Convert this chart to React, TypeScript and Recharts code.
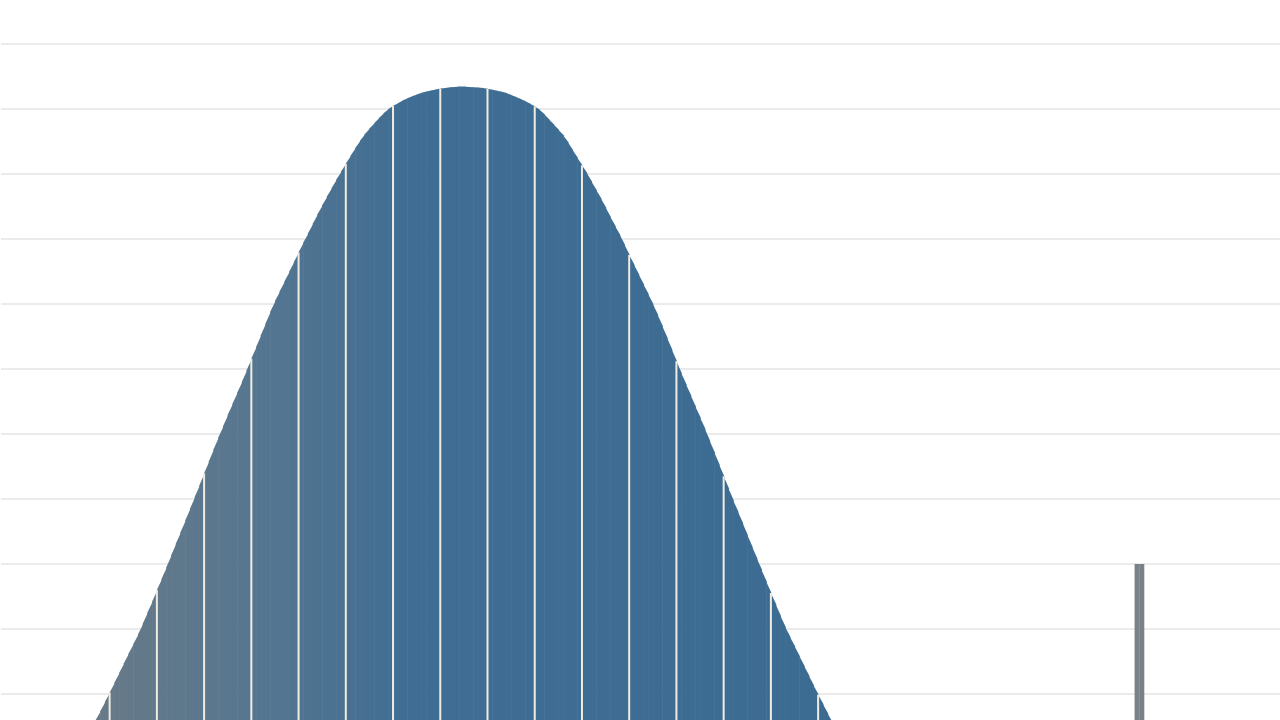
import React from 'react';
import { BarChart, Bar, XAxis, YAxis, CartesianGrid } from 'recharts';

// narrow bins across the full width; the bell occupies bins 8..187
const binCount = 271;
const bellStart = 8;
const bellValues = [
  0.00, 0.01, 0.01, 0.02, 0.04, 0.06, 0.09, 0.14, 0.20, 0.27,
  0.40, 0.53, 0.66, 0.81, 0.95, 1.10, 1.25, 1.40, 1.55, 1.70,
  1.84, 1.99, 2.17, 2.34, 2.51, 2.69, 2.86, 3.04, 3.22, 3.40,
  3.58, 3.76, 3.94, 4.12, 4.30, 4.49, 4.67, 4.86, 5.03, 5.21,
  5.38, 5.55, 5.72, 5.89, 6.07, 6.25, 6.43, 6.61, 6.79, 6.97,
  7.12, 7.27, 7.42, 7.57, 7.72, 7.87, 8.02, 8.16, 8.31, 8.45,
  8.59, 8.72, 8.85, 8.98, 9.10, 9.22, 9.34, 9.46, 9.56, 9.66,
  9.74, 9.82, 9.90, 9.97, 10.03, 10.07, 10.11, 10.15, 10.18, 10.21,
  10.24, 10.26, 10.28, 10.29, 10.31, 10.32, 10.33, 10.34, 10.34, 10.35,
  10.34, 10.34, 10.33, 10.33, 10.32, 10.30, 10.29, 10.27, 10.26, 10.23,
  10.20, 10.17, 10.14, 10.10, 10.06, 10.02, 9.96, 9.88, 9.80, 9.72,
  9.64, 9.55, 9.43, 9.31, 9.19, 9.08, 8.95, 8.82, 8.69, 8.56,
  8.41, 8.27, 8.13, 7.99, 7.83, 7.68, 7.53, 7.38, 7.23, 7.08,
  6.92, 6.75, 6.57, 6.39, 6.21, 6.03, 5.85, 5.68, 5.51, 5.34,
  5.17, 4.99, 4.81, 4.63, 4.44, 4.26, 4.07, 3.89, 3.72, 3.54,
  3.35, 3.18, 3.00, 2.82, 2.64, 2.47, 2.29, 2.12, 1.95, 1.81,
  1.66, 1.51, 1.36, 1.21, 1.06, 0.92, 0.77, 0.63, 0.49, 0.37,
  0.25, 0.19, 0.12, 0.09, 0.05, 0.03, 0.02, 0.01, 0.01, 0.00,
];

// the lone grey bar on the right
const outlierBins = [240, 241];
const outlierValue = 3;

// thin separators inside the bell
const dividerBins = [23, 33, 43, 53, 63, 73, 83, 93, 103, 113, 123, 133, 143, 153, 163, 173];

const yTicks = [0, 1, 2, 3, 4, 5, 6, 7, 8, 9, 10, 11];

const data = Array.from({ length: binCount }, (_, i) => {
  const j = i - bellStart;
  return {
    bin: i,
    bell: j >= 0 && j < bellValues.length ? bellValues[j] : 0,
    outlier: outlierBins.includes(i) ? outlierValue : 0,
  };
});

// bar with its top sloped toward the neighbours so the outline reads as a curve
const BellShape = (props: any) => {
  const { x, y, width, height, fill, payload, index } = props;
  if (!height || height <= 0 || !payload.bell) return null;
  const v = payload.bell;
  const perUnit = height / v;
  const base = y + height;
  const prev = data[index - 1] ? data[index - 1].bell : 0;
  const next = data[index + 1] ? data[index + 1].bell : 0;
  const yL = base - ((prev + v) / 2) * perUnit;
  const yR = base - ((v + next) / 2) * perUnit;
  const w = width + 0.3;
  const divider = dividerBins.includes(payload.bin);
  return (
    <g>
      <path d={`M${x},${base}L${x},${yL}L${x + w},${yR}L${x + w},${base}Z`} fill={fill} />
      {divider && <rect x={x - 1} y={yL} width={2} height={base - yL} fill="#f1ece2" />}
    </g>
  );
};

export default function App() {
  return (
    <div style={{ position: 'fixed', left: 0, top: 0, width: 1280, height: 720, overflow: 'hidden', background: '#fff' }}>
      <BarChart
        width={1281}
        height={780}
        data={data}
        margin={{ top: 44, right: 0, left: 1, bottom: 21 }}
        barCategoryGap={0}
        barGap={0}
      >
        <defs>
          <linearGradient id="bellFill" gradientUnits="userSpaceOnUse" x1="0" y1="0" x2="1280" y2="0">
            <stop offset="0.07" stopColor="#687a87" />
            <stop offset="0.2" stopColor="#567690" />
            <stop offset="0.32" stopColor="#3f6d93" />
            <stop offset="1" stopColor="#3a6a90" />
          </linearGradient>
        </defs>
        <CartesianGrid vertical={false} stroke="#ebebeb" strokeWidth={2} />
        <XAxis dataKey="bin" hide />
        <YAxis hide domain={[0, 11]} ticks={yTicks} />
        <Bar dataKey="bell" stackId="s" fill="url(#bellFill)" shape={BellShape} isAnimationActive={false} />
        <Bar dataKey="outlier" stackId="s" fill="#7a8288" isAnimationActive={false} />
      </BarChart>
    </div>
  );
}
